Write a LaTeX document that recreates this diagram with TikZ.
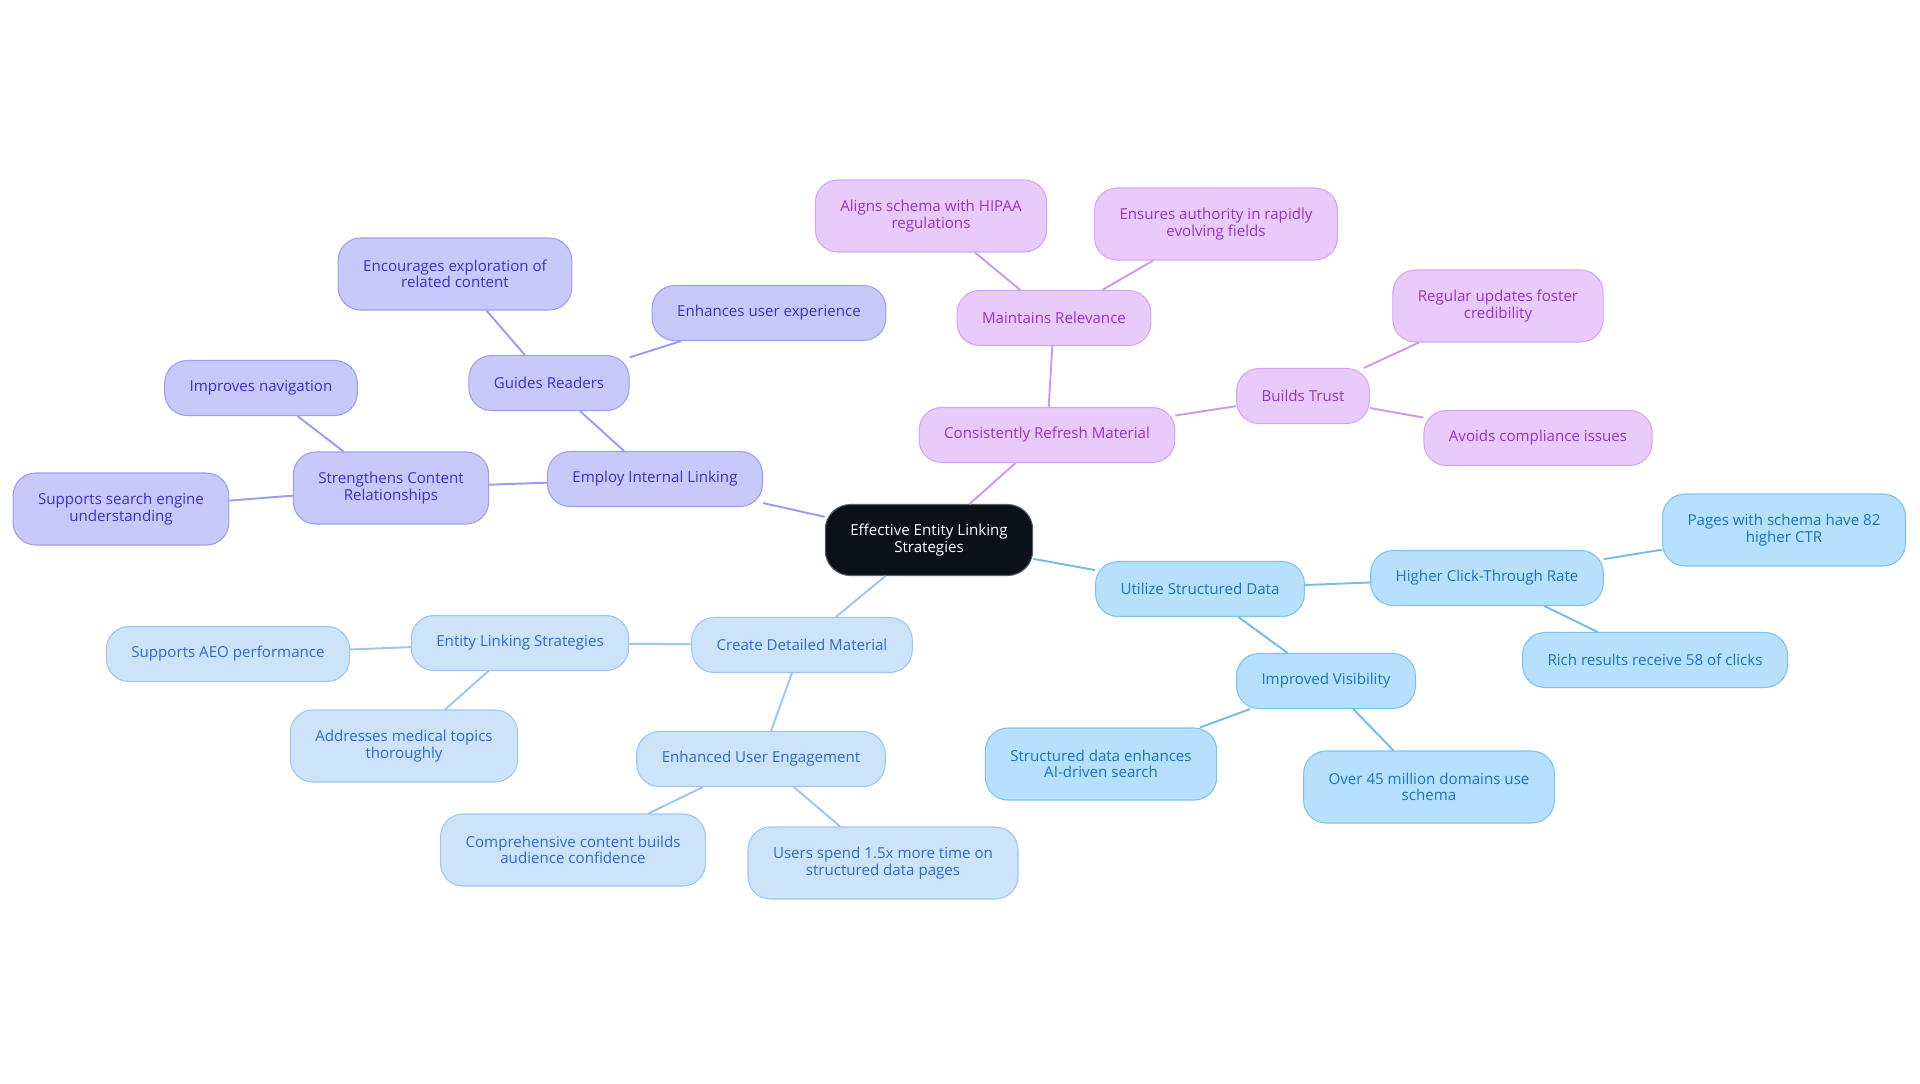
\documentclass[tikz,border=0pt]{standalone}
\usepackage{fontspec}
\setmainfont{Open Sans}

\definecolor{rootFill}{HTML}{0C1119}
\definecolor{rootDraw}{HTML}{5A5F66}
\definecolor{purpFill}{HTML}{E8CAFB}
\definecolor{purpDraw}{HTML}{D6A4F6}
\definecolor{purpText}{HTML}{9A32CC}
\definecolor{purpLn}{HTML}{C99AF0}
\definecolor{indFill}{HTML}{C7C9FB}
\definecolor{indDraw}{HTML}{9C9EF3}
\definecolor{indText}{HTML}{3A30D2}
\definecolor{indLn}{HTML}{9A9CF0}
\definecolor{pblFill}{HTML}{CDE3FA}
\definecolor{pblDraw}{HTML}{9FC6F2}
\definecolor{pblText}{HTML}{2C6BD4}
\definecolor{pblLn}{HTML}{9EC4F0}
\definecolor{skyFill}{HTML}{B6E0FC}
\definecolor{skyDraw}{HTML}{7DC3F2}
\definecolor{skyText}{HTML}{1675C8}
\definecolor{skyLn}{HTML}{74BCEE}

\begin{document}
\begin{tikzpicture}[x=0.02cm, y=-0.02cm,
    every node/.style={font=\fontsize{8.6}{9.4}\selectfont, align=center,
        rounded corners=0.45cm, minimum height=1.1cm, inner xsep=0.5cm, line width=0.6pt},
    tall/.style={minimum height=1.44cm},
    root/.style={fill=rootFill, draw=rootDraw, text=white, minimum height=1.42cm, rounded corners=0.5cm},
    purp/.style={fill=purpFill, draw=purpDraw, text=purpText},
    ind/.style={fill=indFill, draw=indDraw, text=indText},
    pbl/.style={fill=pblFill, draw=pblDraw, text=pblText},
    sky/.style={fill=skyFill, draw=skyDraw, text=skyText},
    link/.style={line width=1.1pt}]

    \useasboundingbox (0,0) rectangle (1920,1083);

    % centre
    \node[root] (root) at (929,540) {Effective Entity Linking\\Strategies};

    % refresh branch
    \node[purp] (refresh) at (1047,435) {Consistently Refresh Material};
    \node[purp] (relevance) at (1054,318) {Maintains Relevance};
    \node[purp, tall] (hipaa) at (931,216) {Aligns schema with HIPAA\\regulations};
    \node[purp, tall] (authority) at (1216,224) {Ensures authority in rapidly\\evolving fields};
    \node[purp] (trust) at (1303,396) {Builds Trust};
    \node[purp, tall] (updates) at (1498,306) {Regular updates foster\\credibility};
    \node[purp] (compliance) at (1538,438) {Avoids compliance issues};

    % internal linking branch
    \node[ind] (internal) at (655,479) {Employ Internal Linking};
    \node[ind] (guides) at (549,383) {Guides Readers};
    \node[ind, tall] (explore) at (455,274) {Encourages exploration of\\related content};
    \node[ind] (ux) at (769,313) {Enhances user experience};
    \node[ind, tall] (strengthen) at (391,488) {Strengthens Content\\Relationships};
    \node[ind] (navigation) at (261,388) {Improves navigation};
    \node[ind, tall] (engine) at (121,509) {Supports search engine\\understanding};

    % detailed material branch
    \node[pbl] (detail) at (802,645) {Create Detailed Material};
    \node[pbl] (entity) at (520,643) {Entity Linking Strategies};
    \node[pbl] (aeo) at (228,654) {Supports AEO performance};
    \node[pbl, tall] (medical) at (404,746) {Addresses medical topics\\thoroughly};
    \node[pbl] (engage) at (761,759) {Enhanced User Engagement};
    \node[pbl, tall] (confidence) at (573,850) {Comprehensive content builds\\audience confidence};
    \node[pbl, tall] (spend) at (883,863) {Users spend 1.5x more time on\\structured data pages};

    % structured data branch
    \node[sky] (structured) at (1200,589) {Utilize Structured Data};
    \node[sky] (ctr) at (1487,578) {Higher Click-Through Rate};
    \node[sky, tall] (pages) at (1784,530) {Pages with schema have 82\\higher CTR};
    \node[sky] (rich) at (1655,660) {Rich results receive 58 of clicks};
    \node[sky] (visibility) at (1326,681) {Improved Visibility};
    \node[sky, tall] (aisearch) at (1101,764) {Structured data enhances\\AI-driven search};
    \node[sky, tall] (domains) at (1429,787) {Over 45 million domains use\\schema};

    % connectors
    \draw[link, purpLn] (root) -- (refresh);
    \draw[link, purpLn] (refresh) -- (relevance);
    \draw[link, purpLn] (relevance) -- (hipaa);
    \draw[link, purpLn] (relevance) -- (authority);
    \draw[link, purpLn] (refresh) -- (trust);
    \draw[link, purpLn] (trust) -- (updates);
    \draw[link, purpLn] (trust) -- (compliance);

    \draw[link, indLn] (root) -- (internal);
    \draw[link, indLn] (internal) -- (guides);
    \draw[link, indLn] (guides) -- (explore);
    \draw[link, indLn] (guides) -- (ux);
    \draw[link, indLn] (internal) -- (strengthen);
    \draw[link, indLn] (strengthen) -- (navigation);
    \draw[link, indLn] (strengthen) -- (engine);

    \draw[link, pblLn] (root) -- (detail);
    \draw[link, pblLn] (detail) -- (entity);
    \draw[link, pblLn] (entity) -- (aeo);
    \draw[link, pblLn] (entity) -- (medical);
    \draw[link, pblLn] (detail) -- (engage);
    \draw[link, pblLn] (engage) -- (confidence);
    \draw[link, pblLn] (engage) -- (spend);

    \draw[link, skyLn] (root) -- (structured);
    \draw[link, skyLn] (structured) -- (ctr);
    \draw[link, skyLn] (ctr) -- (pages);
    \draw[link, skyLn] (ctr) -- (rich);
    \draw[link, skyLn] (structured) -- (visibility);
    \draw[link, skyLn] (visibility) -- (aisearch);
    \draw[link, skyLn] (visibility) -- (domains);
\end{tikzpicture}
\end{document}
